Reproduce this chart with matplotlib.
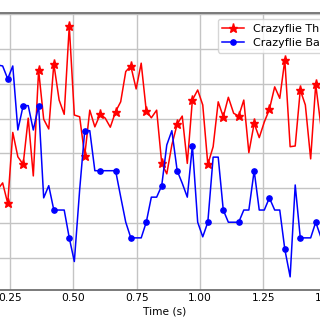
import matplotlib
matplotlib.use("Agg")
import matplotlib.pyplot as plt

# tempo de cada amostra (s)
time = [0.200, 0.221, 0.241, 0.261, 0.281, 0.302, 0.322, 0.342, 0.363, 0.383,
        0.403, 0.423, 0.444, 0.464, 0.484, 0.504, 0.525, 0.545, 0.565, 0.585,
        0.606, 0.626, 0.646, 0.667, 0.687, 0.707, 0.727, 0.748, 0.768, 0.788,
        0.808, 0.829, 0.849, 0.869, 0.889, 0.910, 0.930, 0.950, 0.970, 0.991,
        1.011, 1.031, 1.052, 1.072, 1.092, 1.112, 1.133, 1.153, 1.173, 1.193,
        1.214, 1.234, 1.254, 1.274, 1.295, 1.315, 1.335, 1.356, 1.376, 1.396,
        1.416, 1.437, 1.457, 1.477]

thrust = [1.95, 2.15, 1.56, 3.60, 2.90, 2.68, 4.01, 2.35, 5.39, 3.98,
          3.70, 5.57, 4.53, 4.12, 6.66, 4.10, 4.05, 2.93, 4.24, 3.76,
          4.12, 4.01, 3.75, 4.20, 4.48, 5.35, 5.51, 4.85, 5.59, 4.22,
          4.02, 4.24, 2.71, 2.41, 3.24, 3.84, 4.07, 2.71, 4.53, 4.82,
          4.39, 2.68, 3.19, 4.48, 4.05, 4.61, 4.15, 4.07, 4.53, 3.02,
          3.86, 3.45, 3.90, 4.26, 4.91, 4.58, 5.68, 3.19, 3.21, 4.82,
          4.39, 2.84, 4.98, 3.81]

battery = [5.54, 5.51, 5.14, 5.51, 3.67, 4.37, 4.37, 3.67, 4.37, 1.72,
           2.07, 1.37, 1.37, 1.37, 0.57, -0.11, 1.95, 3.65, 3.65, 2.50,
           2.50, 2.50, 2.50, 2.50, 1.75, 1.02, 0.57, 0.57, 0.57, 1.02,
           1.74, 1.74, 2.07, 3.24, 3.65, 2.50, 2.14, 1.74, 3.22, 1.02,
           0.60, 1.02, 2.89, 2.89, 1.37, 1.02, 1.02, 1.02, 1.37, 1.37,
           2.50, 1.37, 1.37, 1.72, 1.37, 1.37, 0.24, -0.55, 2.09, 0.57,
           0.57, 0.57, 1.02, 0.60]

labels = ["Crazyflie Thrust", "Crazyflie Battery"]
xticks = [0.25, 0.50, 0.75, 1.00, 1.25, 1.50]

plt.rcParams['font.size'] = 7.7

fig = plt.figure(figsize=(3.2, 3.2), dpi=100)
# o grafico original foi recortado: os eixos passam das bordas da figura
ax = fig.add_axes([-0.09375, 0.09375, 1.21875, 0.865625])

ax.plot(time, thrust, color='r', lw=1.1, marker='*', ms=6.8, markevery=(2, 3), label=labels[0])
ax.plot(time, battery, color='b', lw=1.1, marker='o', ms=3.8, markevery=(2, 3), label=labels[1])

ax.set_xticks(xticks)
ax.set_xticklabels(['%0.2f' % t for t in xticks])
ax.set_yticks(range(0, 8))
ax.set_xlim(0.0921, 1.6318)
ax.set_ylim(-0.928, 7.032)
ax.tick_params(length=0, pad=2.5)
ax.grid(True, color='#c4c4c4', lw=1.0)
for s in ax.spines.values():
    s.set_color('#707070')
    s.set_linewidth(1.3)
ax.set_xlabel("Time (s)", labelpad=2)

ax.legend(loc='upper left', bbox_to_anchor=(0.680, 0.940), bbox_transform=fig.transFigure,
          borderaxespad=0, fontsize=8, labelspacing=0.4, borderpad=0.4,
          handlelength=2.0, handletextpad=0.8)

fig.savefig("out.png", dpi=100)
